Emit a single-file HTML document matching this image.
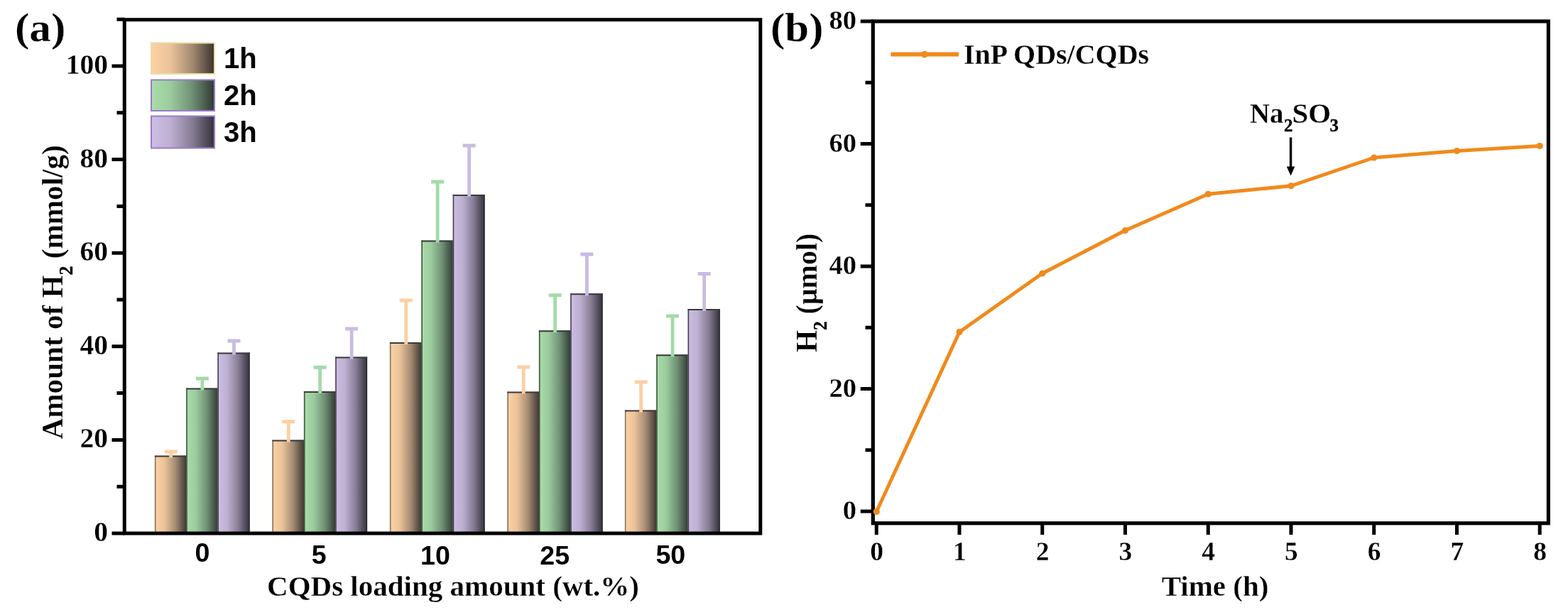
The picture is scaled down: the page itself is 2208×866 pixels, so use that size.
<!DOCTYPE html>
<html lang="en">
<head>
<meta charset="utf-8">
<title>H2 evolution charts</title>
<style>
html,body{margin:0;padding:0;background:#fff;}
body{width:2208px;height:866px;overflow:hidden;}
svg text{fill:#000;stroke:#fff;stroke-width:0.3px;paint-order:fill stroke;stroke-linejoin:round;}
svg .sub{stroke:#000;stroke-width:0.35px;}
svg .sans{stroke:none;}
</style>
</head>
<body>
<svg width="2208" height="866" viewBox="0 0 2208 866" style="display:block">
<filter id="soft" x="0" y="0" width="2208" height="866" filterUnits="userSpaceOnUse"><feGaussianBlur stdDeviation="0.5"/></filter>
<g filter="url(#soft)">
<rect width="2208" height="866" fill="#fff"/>
<defs>
<linearGradient id="go" x1="0" y1="0" x2="1" y2="0"><stop offset="0" stop-color="#FCD2A3"/><stop offset="0.3" stop-color="#EBC39A"/><stop offset="0.65" stop-color="#A38A72"/><stop offset="1" stop-color="#3A332F"/></linearGradient>
<linearGradient id="gg" x1="0" y1="0" x2="1" y2="0"><stop offset="0" stop-color="#A9DDAA"/><stop offset="0.3" stop-color="#9CCB9E"/><stop offset="0.65" stop-color="#6F8F74"/><stop offset="1" stop-color="#2E3831"/></linearGradient>
<linearGradient id="gp" x1="0" y1="0" x2="1" y2="0"><stop offset="0" stop-color="#CDBEE4"/><stop offset="0.3" stop-color="#BDB0D2"/><stop offset="0.65" stop-color="#857C93"/><stop offset="1" stop-color="#33313A"/></linearGradient>
</defs>
<g id="panel-a">
<rect x="217.90" y="641.60" width="45.30" height="109.40" fill="url(#go)"/>
<path d="M218.70 751V641.60" stroke="#85735f" stroke-width="1.6" fill="none"/>
<path d="M262.50 751V641.60" stroke="#2b2b2e" stroke-width="1.4" fill="none"/>
<path d="M217.90 642.50H263.20" stroke="#3a3a3a" stroke-width="1.8" fill="none"/>
<rect x="262.20" y="546.60" width="45.20" height="204.40" fill="url(#gg)"/>
<path d="M263.00 751V546.60" stroke="#3f5341" stroke-width="1.6" fill="none"/>
<path d="M306.70 751V546.60" stroke="#2b2b2e" stroke-width="1.4" fill="none"/>
<path d="M262.20 547.50H307.40" stroke="#3a3a3a" stroke-width="1.8" fill="none"/>
<rect x="306.40" y="496.60" width="45.20" height="254.40" fill="url(#gp)"/>
<path d="M307.20 751V496.60" stroke="#47434f" stroke-width="1.6" fill="none"/>
<path d="M350.90 751V496.60" stroke="#2b2b2e" stroke-width="1.4" fill="none"/>
<path d="M306.40 497.50H351.60" stroke="#3a3a3a" stroke-width="1.8" fill="none"/>
<rect x="383.40" y="619.60" width="45.50" height="131.40" fill="url(#go)"/>
<path d="M384.20 751V619.60" stroke="#85735f" stroke-width="1.6" fill="none"/>
<path d="M428.20 751V619.60" stroke="#2b2b2e" stroke-width="1.4" fill="none"/>
<path d="M383.40 620.50H428.90" stroke="#3a3a3a" stroke-width="1.8" fill="none"/>
<rect x="427.90" y="551.10" width="45.30" height="199.90" fill="url(#gg)"/>
<path d="M428.70 751V551.10" stroke="#3f5341" stroke-width="1.6" fill="none"/>
<path d="M472.50 751V551.10" stroke="#2b2b2e" stroke-width="1.4" fill="none"/>
<path d="M427.90 552.00H473.20" stroke="#3a3a3a" stroke-width="1.8" fill="none"/>
<rect x="472.20" y="502.60" width="44.90" height="248.40" fill="url(#gp)"/>
<path d="M473.00 751V502.60" stroke="#47434f" stroke-width="1.6" fill="none"/>
<path d="M516.40 751V502.60" stroke="#2b2b2e" stroke-width="1.4" fill="none"/>
<path d="M472.20 503.50H517.10" stroke="#3a3a3a" stroke-width="1.8" fill="none"/>
<rect x="548.90" y="482.10" width="45.50" height="268.90" fill="url(#go)"/>
<path d="M549.70 751V482.10" stroke="#85735f" stroke-width="1.6" fill="none"/>
<path d="M593.70 751V482.10" stroke="#2b2b2e" stroke-width="1.4" fill="none"/>
<path d="M548.90 483.00H594.40" stroke="#3a3a3a" stroke-width="1.8" fill="none"/>
<rect x="593.40" y="338.60" width="45.30" height="412.40" fill="url(#gg)"/>
<path d="M594.20 751V338.60" stroke="#3f5341" stroke-width="1.6" fill="none"/>
<path d="M638.00 751V338.60" stroke="#2b2b2e" stroke-width="1.4" fill="none"/>
<path d="M593.40 339.50H638.70" stroke="#3a3a3a" stroke-width="1.8" fill="none"/>
<rect x="637.70" y="274.10" width="44.90" height="476.90" fill="url(#gp)"/>
<path d="M638.50 751V274.10" stroke="#47434f" stroke-width="1.6" fill="none"/>
<path d="M681.90 751V274.10" stroke="#2b2b2e" stroke-width="1.4" fill="none"/>
<path d="M637.70 275.00H682.60" stroke="#3a3a3a" stroke-width="1.8" fill="none"/>
<rect x="714.40" y="551.60" width="45.50" height="199.40" fill="url(#go)"/>
<path d="M715.20 751V551.60" stroke="#85735f" stroke-width="1.6" fill="none"/>
<path d="M759.20 751V551.60" stroke="#2b2b2e" stroke-width="1.4" fill="none"/>
<path d="M714.40 552.50H759.90" stroke="#3a3a3a" stroke-width="1.8" fill="none"/>
<rect x="758.90" y="465.35" width="45.30" height="285.65" fill="url(#gg)"/>
<path d="M759.70 751V465.35" stroke="#3f5341" stroke-width="1.6" fill="none"/>
<path d="M803.50 751V465.35" stroke="#2b2b2e" stroke-width="1.4" fill="none"/>
<path d="M758.90 466.25H804.20" stroke="#3a3a3a" stroke-width="1.8" fill="none"/>
<rect x="803.20" y="413.35" width="45.40" height="337.65" fill="url(#gp)"/>
<path d="M804.00 751V413.35" stroke="#47434f" stroke-width="1.6" fill="none"/>
<path d="M847.90 751V413.35" stroke="#2b2b2e" stroke-width="1.4" fill="none"/>
<path d="M803.20 414.25H848.60" stroke="#3a3a3a" stroke-width="1.8" fill="none"/>
<rect x="879.90" y="577.60" width="45.30" height="173.40" fill="url(#go)"/>
<path d="M880.70 751V577.60" stroke="#85735f" stroke-width="1.6" fill="none"/>
<path d="M924.50 751V577.60" stroke="#2b2b2e" stroke-width="1.4" fill="none"/>
<path d="M879.90 578.50H925.20" stroke="#3a3a3a" stroke-width="1.8" fill="none"/>
<rect x="924.20" y="499.35" width="45.40" height="251.65" fill="url(#gg)"/>
<path d="M925.00 751V499.35" stroke="#3f5341" stroke-width="1.6" fill="none"/>
<path d="M968.90 751V499.35" stroke="#2b2b2e" stroke-width="1.4" fill="none"/>
<path d="M924.20 500.25H969.60" stroke="#3a3a3a" stroke-width="1.8" fill="none"/>
<rect x="968.60" y="435.10" width="45.20" height="315.90" fill="url(#gp)"/>
<path d="M969.40 751V435.10" stroke="#47434f" stroke-width="1.6" fill="none"/>
<path d="M1013.10 751V435.10" stroke="#2b2b2e" stroke-width="1.4" fill="none"/>
<path d="M968.60 436.00H1013.80" stroke="#3a3a3a" stroke-width="1.8" fill="none"/>
<path d="M240.65 644.50V636.00M231.65 636.00H249.65" stroke="#FBD0A4" stroke-width="4.8" fill="none"/>
<path d="M284.90 549.50V533.00M275.90 533.00H293.90" stroke="#A3DBA8" stroke-width="4.8" fill="none"/>
<path d="M329.50 499.50V480.00M320.50 480.00H338.50" stroke="#C9BBE2" stroke-width="4.8" fill="none"/>
<path d="M406.25 622.50V593.75M397.25 593.75H415.25" stroke="#FBD0A4" stroke-width="4.8" fill="none"/>
<path d="M450.65 554.00V517.25M441.65 517.25H459.65" stroke="#A3DBA8" stroke-width="4.8" fill="none"/>
<path d="M495.15 505.50V463.00M486.15 463.00H504.15" stroke="#C9BBE2" stroke-width="4.8" fill="none"/>
<path d="M571.75 485.00V423.00M562.75 423.00H580.75" stroke="#FBD0A4" stroke-width="4.8" fill="none"/>
<path d="M616.15 341.50V256.00M607.15 256.00H625.15" stroke="#A3DBA8" stroke-width="4.8" fill="none"/>
<path d="M660.65 277.00V205.00M651.65 205.00H669.65" stroke="#C9BBE2" stroke-width="4.8" fill="none"/>
<path d="M737.25 554.50V517.00M728.25 517.00H746.25" stroke="#FBD0A4" stroke-width="4.8" fill="none"/>
<path d="M781.65 468.25V415.75M772.65 415.75H790.65" stroke="#A3DBA8" stroke-width="4.8" fill="none"/>
<path d="M826.40 416.25V358.00M817.40 358.00H835.40" stroke="#C9BBE2" stroke-width="4.8" fill="none"/>
<path d="M902.65 580.50V538.00M893.65 538.00H911.65" stroke="#FBD0A4" stroke-width="4.8" fill="none"/>
<path d="M947.00 502.25V445.00M938.00 445.00H956.00" stroke="#A3DBA8" stroke-width="4.8" fill="none"/>
<path d="M991.70 438.00V385.50M982.70 385.50H1000.70" stroke="#C9BBE2" stroke-width="4.8" fill="none"/>
<rect x="175.25" y="27.75" width="895.55" height="723.25" fill="none" stroke="#000" stroke-width="5.0"/>
<path d="M157.5 751.00H175.25M164.5 685.20H175.25M157.5 619.40H175.25M164.5 553.60H175.25M157.5 487.80H175.25M164.5 422.00H175.25M157.5 356.20H175.25M164.5 290.40H175.25M157.5 224.60H175.25M164.5 158.80H175.25M157.5 93.00H175.25M164.5 27.20H175.25" stroke="#000" stroke-width="5.0" fill="none"/>
<text x="152" y="762.00" text-anchor="end" font-family='"Liberation Serif", serif' font-weight="bold" font-size="39.5">0</text>
<text x="152" y="630.40" text-anchor="end" font-family='"Liberation Serif", serif' font-weight="bold" font-size="39.5">20</text>
<text x="152" y="498.80" text-anchor="end" font-family='"Liberation Serif", serif' font-weight="bold" font-size="39.5">40</text>
<text x="152" y="367.20" text-anchor="end" font-family='"Liberation Serif", serif' font-weight="bold" font-size="39.5">60</text>
<text x="152" y="235.60" text-anchor="end" font-family='"Liberation Serif", serif' font-weight="bold" font-size="39.5">80</text>
<text x="152" y="104.00" text-anchor="end" font-family='"Liberation Serif", serif' font-weight="bold" font-size="39.5">100</text>
<text x="285.0" y="791.2" text-anchor="middle" class="sans" font-family='"Liberation Sans", sans-serif' font-weight="bold" font-size="37.6">0</text>
<text x="449.3" y="794.3" text-anchor="middle" class="sans" font-family='"Liberation Sans", sans-serif' font-weight="bold" font-size="37.6">5</text>
<text x="612.9" y="794.9" text-anchor="middle" class="sans" font-family='"Liberation Sans", sans-serif' font-weight="bold" font-size="37.6">10</text>
<text x="781.2" y="794.9" text-anchor="middle" class="sans" font-family='"Liberation Sans", sans-serif' font-weight="bold" font-size="37.6">25</text>
<text x="944.3" y="794.0" text-anchor="middle" class="sans" font-family='"Liberation Sans", sans-serif' font-weight="bold" font-size="37.6">50</text>
<text x="638" y="838.5" text-anchor="middle" font-family='"Liberation Serif", serif' font-weight="bold" font-size="41">CQDs loading amount (wt.%)</text>
<text transform="translate(87.6 411.3) rotate(-90) scale(0.98 1)" text-anchor="middle" font-family='"Liberation Serif", serif' font-weight="bold" font-size="42">Amount of H<tspan font-size="26.5" dy="14" class="sub">2</tspan><tspan dy="-14"> (mmol/g)</tspan></text>
<text transform="translate(21 58) scale(1.055 1)" font-family='"Liberation Serif", serif' font-weight="bold" font-size="58">(a)</text>
<rect x="213" y="60.5" width="89" height="43.5" fill="url(#go)" stroke="#EADCA6" stroke-width="2"/>
<text x="315" y="95.75" class="sans" font-family='"Liberation Sans", sans-serif' font-weight="bold" font-size="40">1h</text>
<rect x="213" y="112.5" width="89" height="43.5" fill="url(#gg)" stroke="#9A7CCB" stroke-width="2"/>
<text x="315" y="147.75" class="sans" font-family='"Liberation Sans", sans-serif' font-weight="bold" font-size="40">2h</text>
<rect x="213" y="163.5" width="89" height="45.0" fill="url(#gp)" stroke="#9A7CCB" stroke-width="2"/>
<text x="315" y="199.50" class="sans" font-family='"Liberation Sans", sans-serif' font-weight="bold" font-size="40">3h</text>
</g>
<g id="panel-b">
<rect x="1229.3" y="30.0" width="951.10" height="706.75" fill="none" stroke="#000" stroke-width="5.2"/>
<path d="M1211.75 720.00H1229.3M1218.5 633.75H1229.3M1211.75 547.50H1229.3M1218.5 461.25H1229.3M1211.75 375.00H1229.3M1218.5 288.75H1229.3M1211.75 202.50H1229.3M1218.5 116.25H1229.3M1211.75 30.00H1229.3M1234.25 736.75V753M1351.00 736.75V753M1467.75 736.75V753M1584.50 736.75V753M1701.25 736.75V753M1818.00 736.75V753M1934.75 736.75V753M2051.50 736.75V753M2168.25 736.75V753" stroke="#000" stroke-width="5.0" fill="none"/>
<polyline points="1234.25,720.50 1351.00,467.50 1467.75,385.00 1584.50,324.50 1701.25,273.25 1818.00,261.75 1934.75,222.00 2051.50,212.50 2168.25,205.50" fill="none" stroke="#F08A1E" stroke-width="5" stroke-linejoin="round"/>
<circle cx="1234.25" cy="720.50" r="4.6" fill="#F08A1E"/>
<circle cx="1351.00" cy="467.50" r="4.6" fill="#F08A1E"/>
<circle cx="1467.75" cy="385.00" r="4.6" fill="#F08A1E"/>
<circle cx="1584.50" cy="324.50" r="4.6" fill="#F08A1E"/>
<circle cx="1701.25" cy="273.25" r="4.6" fill="#F08A1E"/>
<circle cx="1818.00" cy="261.75" r="4.6" fill="#F08A1E"/>
<circle cx="1934.75" cy="222.00" r="4.6" fill="#F08A1E"/>
<circle cx="2051.50" cy="212.50" r="4.6" fill="#F08A1E"/>
<circle cx="2168.25" cy="205.50" r="4.6" fill="#F08A1E"/>
<text x="1206" y="731.00" text-anchor="end" font-family='"Liberation Serif", serif' font-weight="bold" font-size="38.5">0</text>
<text x="1206" y="558.50" text-anchor="end" font-family='"Liberation Serif", serif' font-weight="bold" font-size="38.5">20</text>
<text x="1206" y="386.00" text-anchor="end" font-family='"Liberation Serif", serif' font-weight="bold" font-size="38.5">40</text>
<text x="1206" y="213.50" text-anchor="end" font-family='"Liberation Serif", serif' font-weight="bold" font-size="38.5">60</text>
<text x="1206" y="41.00" text-anchor="end" font-family='"Liberation Serif", serif' font-weight="bold" font-size="38.5">80</text>
<text x="1234.55" y="789.3" text-anchor="middle" font-family='"Liberation Serif", serif' font-weight="bold" font-size="37.5">0</text>
<text x="1351.30" y="789.3" text-anchor="middle" font-family='"Liberation Serif", serif' font-weight="bold" font-size="37.5">1</text>
<text x="1468.05" y="789.3" text-anchor="middle" font-family='"Liberation Serif", serif' font-weight="bold" font-size="37.5">2</text>
<text x="1584.80" y="789.3" text-anchor="middle" font-family='"Liberation Serif", serif' font-weight="bold" font-size="37.5">3</text>
<text x="1701.55" y="789.3" text-anchor="middle" font-family='"Liberation Serif", serif' font-weight="bold" font-size="37.5">4</text>
<text x="1818.30" y="789.3" text-anchor="middle" font-family='"Liberation Serif", serif' font-weight="bold" font-size="37.5">5</text>
<text x="1935.05" y="789.3" text-anchor="middle" font-family='"Liberation Serif", serif' font-weight="bold" font-size="37.5">6</text>
<text x="2051.80" y="789.3" text-anchor="middle" font-family='"Liberation Serif", serif' font-weight="bold" font-size="37.5">7</text>
<text x="2168.55" y="789.3" text-anchor="middle" font-family='"Liberation Serif", serif' font-weight="bold" font-size="37.5">8</text>
<text x="1711" y="838.8" text-anchor="middle" font-family='"Liberation Serif", serif' font-weight="bold" font-size="41">Time (h)</text>
<text transform="translate(1150.2 412.4) rotate(-90) scale(0.952 1)" text-anchor="middle" font-family='"Liberation Serif", serif' font-weight="bold" font-size="42">H<tspan font-size="26.5" dy="14" class="sub">2</tspan><tspan dy="-14"> (μmol)</tspan></text>
<text transform="translate(1085 57.5) scale(1.05 1)" font-family='"Liberation Serif", serif' font-weight="bold" font-size="58">(b)</text>
<path d="M1254.5 76.6H1350" stroke="#F08A1E" stroke-width="6" fill="none"/>
<circle cx="1302" cy="76.6" r="4.8" fill="#F08A1E"/>
<text x="1357" y="90" font-family='"Liberation Serif", serif' font-weight="bold" font-size="40">InP QDs/CQDs</text>
<text y="172.8" font-family='"Liberation Serif", serif' font-weight="bold" font-size="41"><tspan x="1760" textLength="47.5" lengthAdjust="spacingAndGlyphs">Na</tspan><tspan x="1808" dy="12.6" font-size="25" class="sub">2</tspan><tspan x="1819.5" dy="-12.6">SO</tspan><tspan x="1872.5" dy="12.6" font-size="25" class="sub">3</tspan></text>
<path d="M1817.6 193.5V238" stroke="#000" stroke-width="3.4" fill="none"/>
<path d="M1811.8 234.5L1817.6 247.5L1823.4 234.5Z" fill="#000"/>
</g>
</g>
</svg>
</body>
</html>
